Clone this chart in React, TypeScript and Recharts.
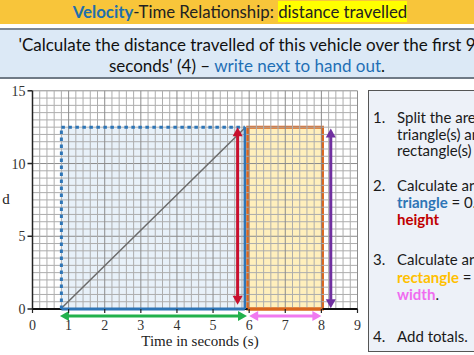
import React from "react";
import { ComposedChart, Line, XAxis, YAxis, ReferenceLine, ReferenceArea } from "recharts";

// axis ticks
const timeTicks = [0, 1, 2, 3, 4, 5, 6, 7, 8, 9];
const distTicks = [0, 5, 10, 15];

// velocity line (acceleration phase)
const slopeLine = [
  { t: 0.78, d: 0 },
  { t: 5.9, d: 12.5 },
];

// shaded regions
const triangleBox = { x1: 0.8, x2: 5.88, y1: 0, y2: 12.5 };
const rectangleBox = { x1: 5.96, x2: 8.03, y1: 0, y2: 12.5 };

// arrows
const heightArrow = [{ x: 5.68, y: 0.3 }, { x: 5.68, y: 12.5 }];
const rectHeightArrow = [{ x: 8.26, y: 0.05 }, { x: 8.26, y: 12.4 }];
const baseArrow = [{ x: 0.76, y: -0.48 }, { x: 5.94, y: -0.48 }];
const widthArrow = [{ x: 6.0, y: -0.48 }, { x: 8.0, y: -0.48 }];

// graph paper lines
const gridX = Array.from({ length: 46 }, (_, i) => i / 5);
const gridY = Array.from({ length: 31 }, (_, i) => i / 2);

const FONT = "Lato, 'Open Sans', sans-serif";
const SERIF = "'Liberation Serif', 'DejaVu Serif', serif";

function arrowShape(color: string) {
  return (p: any) => {
    const { x1, y1, x2, y2 } = p;
    const dx = x2 - x1;
    const dy = y2 - y1;
    const len = Math.hypot(dx, dy) || 1;
    const ux = dx / len;
    const uy = dy / len;
    const L = 9;
    const W = 5;
    const head = (tx: number, ty: number, sx: number, sy: number) => {
      const bx = tx - sx * L;
      const by = ty - sy * L;
      return `${tx},${ty} ${bx - sy * W},${by + sx * W} ${bx + sy * W},${by - sx * W}`;
    };
    return (
      <g>
        <line
          x1={x1 + ux * L * 0.8}
          y1={y1 + uy * L * 0.8}
          x2={x2 - ux * L * 0.8}
          y2={y2 - uy * L * 0.8}
          stroke={color}
          strokeWidth={3}
        />
        <polygon points={head(x2, y2, ux, uy)} fill={color} />
        <polygon points={head(x1, y1, -ux, -uy)} fill={color} />
      </g>
    );
  };
}

function BoxLine({ y, num, children }: { y: number; num?: string; children: React.ReactNode }) {
  return (
    <div
      style={{
        position: "absolute",
        left: 373,
        top: y - 8,
        height: 16,
        lineHeight: "16px",
        fontSize: 15,
        whiteSpace: "nowrap",
        color: "#1a1a1a",
      }}
    >
      <span style={{ display: "inline-block", width: 24 }}>{num}</span>
      {children}
    </div>
  );
}

export default function App() {
  return (
    <div
      style={{
        position: "fixed",
        left: 0,
        top: 0,
        width: 474,
        height: 355,
        overflow: "hidden",
        background: "#fff",
        fontFamily: FONT,
      }}
    >
      {/* title bar */}
      <div
        style={{
          position: "absolute",
          left: 0,
          top: 0,
          width: 480,
          height: 24,
          background: "#f8c53a",
          textAlign: "center",
          lineHeight: "24px",
          fontSize: 16.8,
          color: "#222",
          whiteSpace: "nowrap",
        }}
      >
        <span style={{ color: "#1f6fad", fontWeight: 700 }}>Velocity</span>-Time Relationship:{" "}
        <span style={{ background: "#ffff00" }}>distance travelled</span>
      </div>

      {/* question box */}
      <div
        style={{
          position: "absolute",
          left: 0,
          top: 28,
          width: 474,
          height: 47,
          background: "#dce9f6",
          borderTop: "2px solid #7d8896",
          borderBottom: "2px solid #6f7a86",
        }}
      />
      <div
        style={{
          position: "absolute",
          left: 0,
          top: 34,
          width: 494,
          textAlign: "center",
          fontSize: 17,
          lineHeight: "21px",
          color: "#111",
          whiteSpace: "nowrap",
        }}
      >
        <div>'Calculate the distance travelled of this vehicle over the first 9</div>
        <div>
          seconds' (4) – <span style={{ color: "#1f6fb5" }}>write next to hand out</span>.
        </div>
      </div>

      {/* chart */}
      <div style={{ position: "absolute", left: 0, top: 0 }}>
        <ComposedChart
          width={474}
          height={355}
          data={slopeLine}
          margin={{ top: 90.8, right: 116.5, bottom: 16, left: 0.5 }}
        >
          <XAxis
            dataKey="t"
            type="number"
            domain={[0, 9]}
            ticks={timeTicks}
            allowDataOverflow
            height={30}
            axisLine={false}
            tickLine={{ stroke: "#222", strokeWidth: 1.2 }}
            tickSize={4}
            tickMargin={7}
            tick={{ fill: "#333", fontSize: 14, fontFamily: SERIF }}
          />
          <YAxis
            type="number"
            domain={[0, 15]}
            ticks={distTicks}
            allowDataOverflow
            width={32}
            axisLine={{ stroke: "#222", strokeWidth: 1.5 }}
            tickLine={{ stroke: "#222", strokeWidth: 1.5 }}
            tickSize={5}
            tickMargin={2}
            tick={{ fill: "#333", fontSize: 14, fontFamily: SERIF }}
          />
          {gridY.map((v) => (
            <ReferenceLine
              key={"gy" + v}
              y={v}
              stroke={v % 5 === 0 ? "#8c8c8c" : "#adadad"}
              strokeWidth={1}
            />
          ))}
          {gridX.map((v) => (
            <ReferenceLine
              key={"gx" + v}
              x={v}
              stroke={Number.isInteger(v) ? "#8c8c8c" : "#adadad"}
              strokeWidth={1}
            />
          ))}
          <ReferenceArea {...triangleBox} fill="#c5dcf1" fillOpacity={0.4} stroke="none" />
          <ReferenceArea
            {...rectangleBox}
            fill="#ffdf7a"
            fillOpacity={0.5}
            stroke="#d9661f"
            strokeWidth={3}
          />
          <ReferenceLine
            segment={[{ x: 0, y: 0 }, { x: 9, y: 0 }]}
            stroke="#111"
            strokeWidth={2}
          />
          <Line
            dataKey="d"
            stroke="#6b6b6b"
            strokeWidth={1.5}
            dot={false}
            isAnimationActive={false}
          />
          <ReferenceLine
            segment={[{ x: triangleBox.x1, y: 0 }, { x: triangleBox.x1, y: 12.5 }]}
            stroke="#2e75b6"
            strokeWidth={3}
            strokeDasharray="3.5 3.5"
          />
          <ReferenceLine
            segment={[{ x: triangleBox.x1, y: 12.5 }, { x: triangleBox.x2, y: 12.5 }]}
            stroke="#2e75b6"
            strokeWidth={3}
            strokeDasharray="3.5 3.5"
          />
          <ReferenceLine
            segment={[{ x: triangleBox.x1, y: 0 }, { x: triangleBox.x2, y: 0 }]}
            stroke="#2e75b6"
            strokeWidth={3}
          />
          <ReferenceLine
            segment={[{ x: triangleBox.x2, y: 0 }, { x: triangleBox.x2, y: 12.5 }]}
            stroke="#2e75b6"
            strokeWidth={2.5}
          />
          <ReferenceLine
            segment={[{ x: rectangleBox.x1, y: 0 }, { x: rectangleBox.x2, y: 0 }]}
            stroke="#d9661f"
            strokeWidth={3}
          />
          <ReferenceLine segment={heightArrow} ifOverflow="visible" shape={arrowShape("#c8102e")} />
          <ReferenceLine segment={rectHeightArrow} ifOverflow="visible" shape={arrowShape("#7030a0")} />
          <ReferenceLine segment={baseArrow} ifOverflow="visible" shape={arrowShape("#22b14c")} />
          <ReferenceLine segment={widthArrow} ifOverflow="visible" shape={arrowShape("#f07af0")} />
        </ComposedChart>
      </div>

      {/* axis titles */}
      <div
        style={{
          position: "absolute",
          left: 0,
          top: 191,
          width: 12,
          textAlign: "center",
          fontFamily: SERIF,
          fontSize: 15,
          color: "#222",
        }}
      >
        d
      </div>
      <div
        style={{
          position: "absolute",
          left: 100,
          top: 333,
          width: 200,
          textAlign: "center",
          fontFamily: SERIF,
          fontSize: 15,
          lineHeight: "17px",
          color: "#222",
          whiteSpace: "nowrap",
        }}
      >
        Time in seconds (s)
      </div>

      {/* method box */}
      <div
        style={{
          position: "absolute",
          left: 368,
          top: 90,
          width: 140,
          height: 260,
          background: "#edf1f8",
          border: "1.5px solid #555",
        }}
      />
      <BoxLine y={117} num="1.">Split the area into</BoxLine>
      <BoxLine y={134}>triangle(s) and</BoxLine>
      <BoxLine y={150}>rectangle(s)</BoxLine>
      <BoxLine y={185} num="2.">Calculate area of</BoxLine>
      <BoxLine y={202}>
        <b style={{ color: "#2e75b6" }}>triangle</b> = 0.5 x base x
      </BoxLine>
      <BoxLine y={219}>
        <b style={{ color: "#c00000" }}>height</b>
      </BoxLine>
      <BoxLine y={259} num="3.">Calculate area of</BoxLine>
      <BoxLine y={277}>
        <b style={{ color: "#ffc000" }}>rectangle</b> = height x
      </BoxLine>
      <BoxLine y={294}>
        <b style={{ color: "#f06cf0" }}>width</b>.
      </BoxLine>
      <BoxLine y={336} num="4.">Add totals.</BoxLine>
    </div>
  );
}
